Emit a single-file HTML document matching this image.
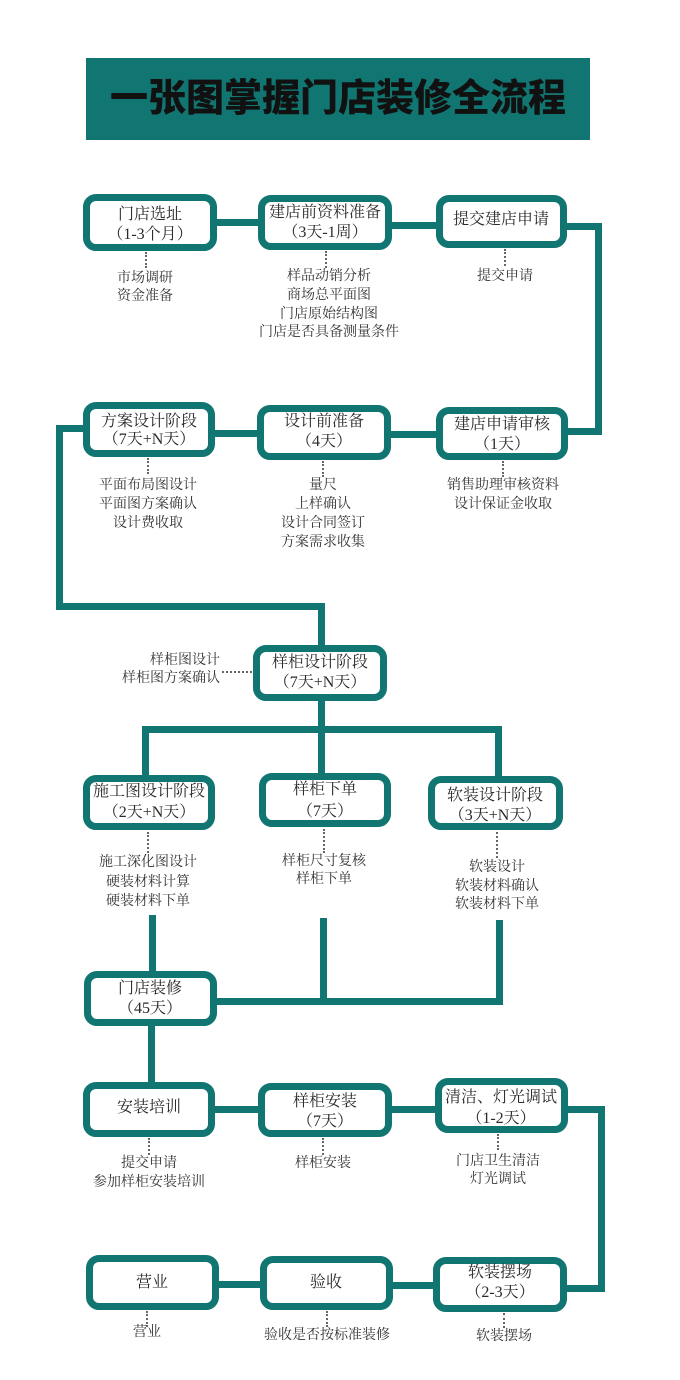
<!DOCTYPE html>
<html><head><meta charset="utf-8">
<style>
html,body{margin:0;padding:0;background:#fff;}
body{width:680px;height:1380px;position:relative;overflow:hidden;font-family:"Liberation Serif","Noto Serif CJK SC",serif;color:#2a2a2a;}
.title{position:absolute;left:86px;top:58px;width:504px;height:82px;background:#117571;color:#111;font-family:"Liberation Sans","Noto Sans CJK SC",sans-serif;font-weight:900;font-size:38px;line-height:82px;text-align:center;letter-spacing:0px;}
.b{position:absolute;box-sizing:border-box;border:7px solid #117571;border-radius:13px;background:#fff;}
.c{position:absolute;background:#117571;}
.t{position:absolute;width:240px;margin-left:-120px;text-align:center;white-space:nowrap;font-size:16px;line-height:20px;height:20px;}
.s{position:absolute;width:240px;margin-left:-120px;text-align:center;white-space:nowrap;font-size:14px;line-height:18px;height:18px;color:#333;}
.r{position:absolute;width:200px;text-align:right;white-space:nowrap;font-size:14px;line-height:18px;height:18px;color:#333;}
.d{position:absolute;width:0;border-left:2px dotted #666;}
.h{position:absolute;height:0;border-top:2px dotted #666;}
</style></head><body>
<div class="title">一张图掌握门店装修全流程</div>

<!-- connectors -->
<div class="c" style="left:217px;top:219px;width:41px;height:7px"></div>
<div class="c" style="left:392px;top:222px;width:44px;height:7px"></div>
<div class="c" style="left:567px;top:223px;width:35px;height:7px"></div>
<div class="c" style="left:595px;top:223px;width:7px;height:212px"></div>
<div class="c" style="left:568px;top:428px;width:34px;height:7px"></div>
<div class="c" style="left:391px;top:431px;width:45px;height:7px"></div>
<div class="c" style="left:215px;top:430px;width:42px;height:7px"></div>
<div class="c" style="left:56px;top:425px;width:27px;height:7px"></div>
<div class="c" style="left:56px;top:425px;width:7px;height:185px"></div>
<div class="c" style="left:56px;top:603px;width:269px;height:7px"></div>
<div class="c" style="left:318px;top:603px;width:7px;height:42px"></div>
<div class="c" style="left:318px;top:701px;width:7px;height:32px"></div>
<div class="c" style="left:142px;top:726px;width:360px;height:7px"></div>
<div class="c" style="left:142px;top:726px;width:7px;height:49px"></div>
<div class="c" style="left:318px;top:726px;width:7px;height:47px"></div>
<div class="c" style="left:495px;top:726px;width:7px;height:50px"></div>
<div class="c" style="left:149px;top:915px;width:7px;height:56px"></div>
<div class="c" style="left:320px;top:918px;width:7px;height:87px"></div>
<div class="c" style="left:496px;top:920px;width:7px;height:85px"></div>
<div class="c" style="left:217px;top:998px;width:286px;height:7px"></div>
<div class="c" style="left:148px;top:1026px;width:7px;height:56px"></div>
<div class="c" style="left:215px;top:1106px;width:43px;height:7px"></div>
<div class="c" style="left:392px;top:1106px;width:43px;height:7px"></div>
<div class="c" style="left:568px;top:1106px;width:37px;height:7px"></div>
<div class="c" style="left:598px;top:1106px;width:7px;height:186px"></div>
<div class="c" style="left:567px;top:1285px;width:38px;height:7px"></div>
<div class="c" style="left:393px;top:1282px;width:40px;height:7px"></div>
<div class="c" style="left:219px;top:1281px;width:41px;height:7px"></div>

<!-- boxes -->
<div class="b" style="left:83px;top:194px;width:134px;height:57px"></div>
<div class="b" style="left:258px;top:195px;width:134px;height:55px"></div>
<div class="b" style="left:436px;top:195px;width:131px;height:53px"></div>
<div class="b" style="left:83px;top:402px;width:132px;height:55px"></div>
<div class="b" style="left:257px;top:405px;width:134px;height:55px"></div>
<div class="b" style="left:436px;top:407px;width:132px;height:53px"></div>
<div class="b" style="left:253px;top:645px;width:134px;height:56px"></div>
<div class="b" style="left:83px;top:775px;width:132px;height:55px"></div>
<div class="b" style="left:259px;top:773px;width:132px;height:54px"></div>
<div class="b" style="left:428px;top:776px;width:135px;height:54px"></div>
<div class="b" style="left:84px;top:971px;width:133px;height:55px"></div>
<div class="b" style="left:83px;top:1082px;width:132px;height:55px"></div>
<div class="b" style="left:258px;top:1083px;width:134px;height:54px"></div>
<div class="b" style="left:435px;top:1078px;width:133px;height:55px"></div>
<div class="b" style="left:86px;top:1255px;width:133px;height:55px"></div>
<div class="b" style="left:260px;top:1256px;width:133px;height:54px"></div>
<div class="b" style="left:433px;top:1257px;width:134px;height:55px"></div>

<!-- box texts -->
<div class="t" style="left:150px;top:205px">门店选址</div>
<div class="t" style="left:150px;top:225px">（1-3个月）</div>
<div class="t" style="left:325px;top:203px">建店前资料准备</div>
<div class="t" style="left:325px;top:223px">（3天-1周）</div>
<div class="t" style="left:501px;top:210px">提交建店申请</div>

<div class="t" style="left:149px;top:412px">方案设计阶段</div>
<div class="t" style="left:149px;top:430px">（7天+N天）</div>
<div class="t" style="left:324px;top:412px">设计前准备</div>
<div class="t" style="left:324px;top:432px">（4天）</div>
<div class="t" style="left:502px;top:415px">建店申请审核</div>
<div class="t" style="left:502px;top:435px">（1天）</div>

<div class="t" style="left:320px;top:653px">样柜设计阶段</div>
<div class="t" style="left:320px;top:673px">（7天+N天）</div>

<div class="t" style="left:149px;top:782px">施工图设计阶段</div>
<div class="t" style="left:149px;top:803px">（2天+N天）</div>
<div class="t" style="left:325px;top:780px">样柜下单</div>
<div class="t" style="left:325px;top:802px">（7天）</div>
<div class="t" style="left:495px;top:786px">软装设计阶段</div>
<div class="t" style="left:495px;top:806px">（3天+N天）</div>

<div class="t" style="left:150px;top:979px">门店装修</div>
<div class="t" style="left:150px;top:999px">（45天）</div>

<div class="t" style="left:149px;top:1098px">安装培训</div>
<div class="t" style="left:325px;top:1092px">样柜安装</div>
<div class="t" style="left:325px;top:1112px">（7天）</div>
<div class="t" style="left:501px;top:1088px">清洁、灯光调试</div>
<div class="t" style="left:501px;top:1109px">（1-2天）</div>

<div class="t" style="left:152px;top:1273px">营业</div>
<div class="t" style="left:326px;top:1273px">验收</div>
<div class="t" style="left:500px;top:1263px">软装摆场</div>
<div class="t" style="left:500px;top:1283px">（2-3天）</div>

<!-- dotted lines -->
<div class="d" style="left:145px;top:252px;height:16px"></div>
<div class="d" style="left:325px;top:251px;height:17px"></div>
<div class="d" style="left:504px;top:249px;height:17px"></div>
<div class="d" style="left:147px;top:458px;height:16px"></div>
<div class="d" style="left:322px;top:461px;height:16px"></div>
<div class="d" style="left:502px;top:461px;height:16px"></div>
<div class="h" style="left:222px;top:671px;width:30px"></div>
<div class="d" style="left:147px;top:832px;height:21px"></div>
<div class="d" style="left:323px;top:829px;height:24px"></div>
<div class="d" style="left:496px;top:832px;height:26px"></div>
<div class="d" style="left:148px;top:1138px;height:17px"></div>
<div class="d" style="left:322px;top:1138px;height:17px"></div>
<div class="d" style="left:497px;top:1134px;height:16px"></div>
<div class="d" style="left:146px;top:1311px;height:16px"></div>
<div class="d" style="left:326px;top:1311px;height:16px"></div>
<div class="d" style="left:503px;top:1313px;height:15px"></div>

<!-- sub texts -->
<div class="s" style="left:145px;top:270px">市场调研</div>
<div class="s" style="left:145px;top:288px">资金准备</div>

<div class="s" style="left:329px;top:268px">样品动销分析</div>
<div class="s" style="left:329px;top:287px">商场总平面图</div>
<div class="s" style="left:329px;top:306px">门店原始结构图</div>
<div class="s" style="left:329px;top:324px">门店是否具备测量条件</div>

<div class="s" style="left:505px;top:268px">提交申请</div>

<div class="s" style="left:148px;top:477px">平面布局图设计</div>
<div class="s" style="left:148px;top:496px">平面图方案确认</div>
<div class="s" style="left:148px;top:515px">设计费收取</div>

<div class="s" style="left:323px;top:477px">量尺</div>
<div class="s" style="left:323px;top:496px">上样确认</div>
<div class="s" style="left:323px;top:515px">设计合同签订</div>
<div class="s" style="left:323px;top:534px">方案需求收集</div>

<div class="s" style="left:503px;top:477px">销售助理审核资料</div>
<div class="s" style="left:503px;top:496px">设计保证金收取</div>

<div class="r" style="left:20px;top:652px">样柜图设计</div>
<div class="r" style="left:20px;top:670px">样柜图方案确认</div>

<div class="s" style="left:148px;top:854px">施工深化图设计</div>
<div class="s" style="left:148px;top:874px">硬装材料计算</div>
<div class="s" style="left:148px;top:893px">硬装材料下单</div>

<div class="s" style="left:324px;top:853px">样柜尺寸复核</div>
<div class="s" style="left:324px;top:871px">样柜下单</div>

<div class="s" style="left:497px;top:859px">软装设计</div>
<div class="s" style="left:497px;top:878px">软装材料确认</div>
<div class="s" style="left:497px;top:896px">软装材料下单</div>

<div class="s" style="left:149px;top:1155px">提交申请</div>
<div class="s" style="left:149px;top:1174px">参加样柜安装培训</div>

<div class="s" style="left:323px;top:1155px">样柜安装</div>

<div class="s" style="left:498px;top:1153px">门店卫生清洁</div>
<div class="s" style="left:498px;top:1171px">灯光调试</div>

<div class="s" style="left:147px;top:1324px">营业</div>
<div class="s" style="left:327px;top:1327px">验收是否按标准装修</div>
<div class="s" style="left:504px;top:1328px">软装摆场</div>
</body></html>
